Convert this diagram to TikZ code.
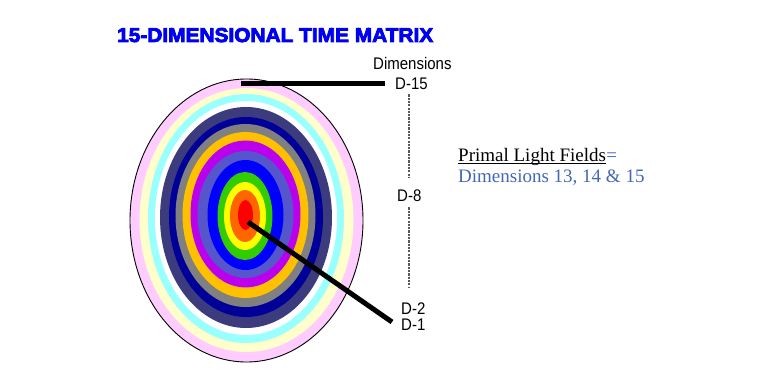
\documentclass[tikz,border=0pt]{standalone}
\usepackage{fontspec}
\usepackage{graphicx}
\newfontfamily\titlefont[FakeBold=4]{Liberation Sans}
\newfontfamily\labelfont{Liberation Sans}
\newfontfamily\bodyfont{Liberation Serif}
\definecolor{rpink}{HTML}{FFCCFF}
\definecolor{rlyellow}{HTML}{FFFFCC}
\definecolor{rcyan}{HTML}{99FFFF}
\definecolor{rdknavy}{HTML}{3B3B7E}
\definecolor{rnavy}{HTML}{000099}
\definecolor{rgray}{HTML}{808080}
\definecolor{rgold}{HTML}{FFC000}
\definecolor{rpurple}{HTML}{BB00EE}
\definecolor{rslate}{HTML}{5555CC}
\definecolor{rblue}{HTML}{0000FF}
\definecolor{rgreen}{HTML}{33CC00}
\definecolor{ryellow}{HTML}{FFFF00}
\definecolor{rorange}{HTML}{FF6600}
\definecolor{rred}{HTML}{FF0000}
\definecolor{titleblue}{HTML}{0000F0}
\definecolor{textblue}{HTML}{4468B4}
\newcommand{\tallbox}[1]{\scalebox{1}[1.12]{#1}}
\tikzset{
  lbl/.style={inner sep=0pt, anchor=base west, font=\labelfont\fontsize{15}{18}\selectfont, text=black},
  body/.style={inner sep=0pt, anchor=base west, font=\bodyfont\fontsize{19}{21}\selectfont},
  pointer/.style={line width=5pt, black},
  dimline/.style={line width=1.1pt, black!65, dash pattern=on 2.2pt off 1.1pt},
}
\newcommand{\ring}[5]{\fill[#1] (#2,#3) ellipse [x radius=#4pt, y radius=#5pt];}
\begin{document}
\begin{tikzpicture}[x=1pt,y=-1pt]
\useasboundingbox (0,0) rectangle (760,387);
\fill[white] (0,0) rectangle (760,387);
% title
\node[inner sep=0pt, anchor=base west, text=titleblue] (title) at (117,42)
  {\resizebox{316pt}{14pt}{\titlefont\bfseries 15-DIMENSIONAL TIME MATRIX}};
% rings
\fill[rpink, draw=black, line width=0.9pt] (246.5,220.5) ellipse [x radius=116.5pt, y radius=141.5pt];
\ring{rlyellow}{246.5}{220}{107}{132}
\ring{rcyan}{246}{218.5}{98}{124.5}
\ring{white}{246}{218}{91}{117}
\ring{rdknavy}{246}{217.5}{86}{110.5}
\ring{rnavy}{246}{217}{77}{100}
\ring{rgray}{245.5}{215.5}{70}{91.5}
\ring{rgold}{245.5}{215}{63}{83}
\ring{rpurple}{245.5}{214}{55}{73.5}
\ring{rslate}{245.5}{214.5}{48}{63.5}
\ring{rblue}{245.5}{215}{38}{55}
\ring{rgreen}{245}{216}{27.5}{44}
\ring{ryellow}{245}{216}{21}{34}
\ring{rorange}{245}{216}{15}{26}
\ring{rred}{245.5}{215}{7.5}{15}
% labels
\node[lbl] (dims) at (373,70) {\tallbox{Dimensions}};
\node[lbl] (d15) at (395,90) {\tallbox{D-15}};
\node[lbl] (d8) at (397,202) {\tallbox{D-8}};
\node[lbl] (d2) at (401,314) {\tallbox{D-2}};
\node[lbl] (d1) at (401,330) {\tallbox{D-1}};
\coordinate (dashx) at (409,0);
\draw[dimline] ([yshift=-4pt]d15.south -| dashx) -- ([yshift=25pt]d8.south -| dashx);
\draw[dimline] ([yshift=-5pt]d8.south -| dashx) -- ([yshift=27pt]d2.south -| dashx);
% pointer lines
\coordinate (topstart) at (241,84);
\coordinate (topend) at (385,84);
\draw[pointer] (topstart) -- (topend);
\coordinate (core) at (248,222);
\coordinate (coreend) at (392,322);
\draw[pointer] (core) -- (coreend);
% side text
\node[body, text=black] (prim) at (458,162) {Primal Light Fields};
\draw[black, line width=1pt] ([yshift=-2pt]prim.base west) -- ([yshift=-2pt]prim.base east);
\node[body, text=textblue] (eq) at (prim.base east) {=};
\node[body, text=textblue] (dimsline) at (458,183) {Dimensions 13, 14 \& 15};
\end{tikzpicture}
\end{document}
